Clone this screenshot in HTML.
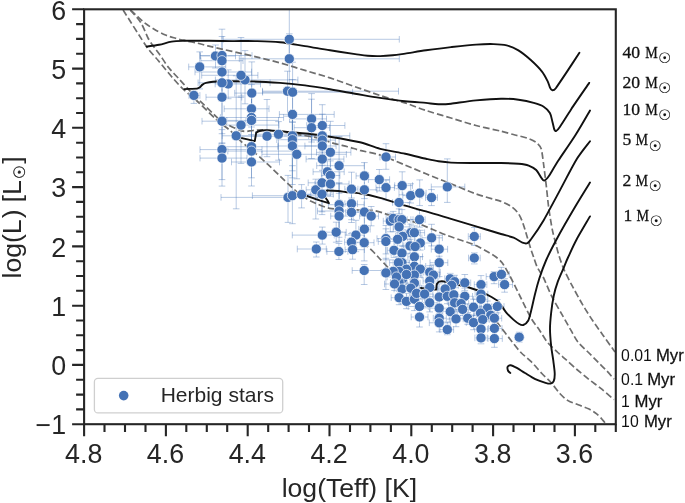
<!DOCTYPE html>
<html lang="en"><head><meta charset="utf-8"><title>Herbig stars HR diagram</title>
<style>html,body{margin:0;padding:0;background:#fff}svg{display:block}.s{font-family:"Liberation Sans",Arial,sans-serif;fill:#262626}.r{font-family:"Liberation Serif","Times New Roman",serif;fill:#111}.d{font-family:"DejaVu Sans","Liberation Sans",sans-serif}</style></head><body>
<svg width="685" height="503" viewBox="0 0 685 503">
<rect width="685" height="503" fill="#fff"/>
<defs><clipPath id="c"><rect x="84.1" y="9.3" width="531.7" height="414.9"/></clipPath></defs>
<g clip-path="url(#c)" stroke="#4a76b8" stroke-opacity="0.42" stroke-width="0.95" fill="none">
<path d="M188.7 66.9 H225.7M199.7 51.9 V88.9M188.7 63.6 v6.6M225.7 63.6 v6.6M196.4 51.9 h6.6M196.4 88.9 h6.6"/>
<path d="M200.5 56.0 H235.5M215.5 45.0 V68.0M200.5 52.7 v6.6M235.5 52.7 v6.6M212.2 45.0 h6.6M212.2 68.0 h6.6"/>
<path d="M200.0 55.5 H252.0M222.0 36.5 V85.5M200.0 52.2 v6.6M252.0 52.2 v6.6M218.7 36.5 h6.6M218.7 85.5 h6.6"/>
<path d="M200.9 60.7 H243.0M222.0 29.2 V74.9M200.9 57.4 v6.6M243.0 57.4 v6.6M218.7 29.2 h6.6M218.7 74.9 h6.6"/>
<path d="M195.0 72.0 H251.6M222.0 58.3 V99.2M195.0 68.7 v6.6M251.6 68.7 v6.6M218.7 58.3 h6.6M218.7 99.2 h6.6"/>
<path d="M215.2 84.0 H260.5M228.2 69.9 V98.7M215.2 80.7 v6.6M260.5 80.7 v6.6M224.9 69.9 h6.6M224.9 98.7 h6.6"/>
<path d="M198.1 82.8 H270.1M222.0 67.1 V101.5M198.1 79.5 v6.6M270.1 79.5 v6.6M218.7 67.1 h6.6M218.7 101.5 h6.6"/>
<path d="M215.4 79.9 H297.9M245.0 50.6 V103.8M215.4 76.6 v6.6M297.9 76.6 v6.6M241.7 50.6 h6.6M241.7 103.8 h6.6"/>
<path d="M201.7 75.3 H257.9M241.0 37.5 V96.0M201.7 72.0 v6.6M257.9 72.0 v6.6M237.7 37.5 h6.6M237.7 96.0 h6.6"/>
<path d="M188.9 95.4 H199.9M193.9 88.4 V103.4M188.9 92.1 v6.6M199.9 92.1 v6.6M190.6 88.4 h6.6M190.6 103.4 h6.6"/>
<path d="M206.0 97.2 H241.7M222.0 75.9 V133.7M206.0 93.9 v6.6M241.7 93.9 v6.6M218.7 75.9 h6.6M218.7 133.7 h6.6"/>
<path d="M234.7 93.1 H290.1M251.8 61.9 V116.3M234.7 89.8 v6.6M290.1 89.8 v6.6M248.5 61.9 h6.6M248.5 116.3 h6.6"/>
<path d="M202.0 121.2 H246.0M222.0 96.2 V143.2M202.0 117.9 v6.6M246.0 117.9 v6.6M218.7 96.2 h6.6M218.7 143.2 h6.6"/>
<path d="M224.2 108.8 H269.0M251.5 95.0 V127.0M224.2 105.5 v6.6M269.0 105.5 v6.6M248.2 95.0 h6.6M248.2 127.0 h6.6"/>
<path d="M220.4 117.5 H283.6M251.5 96.1 V147.1M220.4 114.2 v6.6M283.6 114.2 v6.6M248.2 96.1 h6.6M248.2 147.1 h6.6"/>
<path d="M226.8 120.4 H278.5M251.5 84.6 V153.4M226.8 117.1 v6.6M278.5 117.1 v6.6M248.2 84.6 h6.6M248.2 153.4 h6.6"/>
<path d="M222.2 125.1 H279.0M241.0 97.3 V163.4M222.2 121.8 v6.6M279.0 121.8 v6.6M237.7 97.3 h6.6M237.7 163.4 h6.6"/>
<path d="M222.2 135.8 H266.2M236.2 75.8 V208.8M222.2 132.5 v6.6M266.2 132.5 v6.6M232.9 75.8 h6.6M232.9 208.8 h6.6"/>
<path d="M200.0 149.6 H262.0M222.0 129.6 V179.6M200.0 146.3 v6.6M262.0 146.3 v6.6M218.7 129.6 h6.6M218.7 179.6 h6.6"/>
<path d="M200.0 158.1 H247.0M222.0 143.1 V186.1M200.0 154.8 v6.6M247.0 154.8 v6.6M218.7 143.1 h6.6M218.7 186.1 h6.6"/>
<path d="M219.1 146.7 H278.0M251.5 105.3 V162.2M219.1 143.4 v6.6M278.0 143.4 v6.6M248.2 105.3 h6.6M248.2 162.2 h6.6"/>
<path d="M227.8 151.1 H296.8M251.5 134.5 V177.8M227.8 147.8 v6.6M296.8 147.8 v6.6M248.2 134.5 h6.6M248.2 177.8 h6.6"/>
<path d="M231.5 162.0 H279.5M251.5 148.0 V186.0M231.5 158.7 v6.6M279.5 158.7 v6.6M248.2 148.0 h6.6M248.2 186.0 h6.6"/>
<path d="M223.3 39.3 H399.3M289.3 9.3 V59.3M223.3 36.0 v6.6M399.3 36.0 v6.6M286.0 9.3 h6.6M286.0 59.3 h6.6"/>
<path d="M239.3 58.8 H399.3M289.3 33.8 V83.8M239.3 55.5 v6.6M399.3 55.5 v6.6M286.0 33.8 h6.6M286.0 83.8 h6.6"/>
<path d="M262.5 91.2 H398.5M287.5 71.2 V116.2M262.5 87.9 v6.6M398.5 87.9 v6.6M284.2 71.2 h6.6M284.2 116.2 h6.6"/>
<path d="M262.6 92.2 H352.6M292.6 62.2 V122.2M262.6 88.9 v6.6M352.6 88.9 v6.6M289.3 62.2 h6.6M289.3 122.2 h6.6"/>
<path d="M279.4 114.4 H334.2M292.5 79.5 V143.6M279.4 111.1 v6.6M334.2 111.1 v6.6M289.2 79.5 h6.6M289.2 143.6 h6.6"/>
<path d="M289.6 118.9 H326.5M311.6 93.6 V142.0M289.6 115.6 v6.6M326.5 115.6 v6.6M308.3 93.6 h6.6M308.3 142.0 h6.6"/>
<path d="M294.2 127.7 H329.5M311.5 99.2 V158.5M294.2 124.4 v6.6M329.5 124.4 v6.6M308.2 99.2 h6.6M308.2 158.5 h6.6"/>
<path d="M306.7 125.5 H344.9M322.3 114.2 V150.9M306.7 122.2 v6.6M344.9 122.2 v6.6M319.0 114.2 h6.6M319.0 150.9 h6.6"/>
<path d="M236.9 136.2 H321.7M267.0 99.5 V156.7M236.9 132.9 v6.6M321.7 132.9 v6.6M263.7 99.5 h6.6M263.7 156.7 h6.6"/>
<path d="M255.7 134.3 H320.2M278.5 121.6 V160.2M255.7 131.0 v6.6M320.2 131.0 v6.6M275.2 121.6 h6.6M275.2 160.2 h6.6"/>
<path d="M275.7 135.8 H312.1M292.4 122.0 V170.8M275.7 132.5 v6.6M312.1 132.5 v6.6M289.1 122.0 h6.6M289.1 170.8 h6.6"/>
<path d="M276.8 139.7 H317.3M292.4 116.0 V177.8M276.8 136.4 v6.6M317.3 136.4 v6.6M289.1 116.0 h6.6M289.1 177.8 h6.6"/>
<path d="M278.1 146.0 H325.4M292.4 117.5 V184.5M278.1 142.7 v6.6M325.4 142.7 v6.6M289.1 117.5 h6.6M289.1 184.5 h6.6"/>
<path d="M261.9 154.3 H346.4M296.8 133.9 V178.8M261.9 151.0 v6.6M346.4 151.0 v6.6M293.5 133.9 h6.6M293.5 178.8 h6.6"/>
<path d="M308.6 135.8 H349.8M322.3 104.7 V149.1M308.6 132.5 v6.6M349.8 132.5 v6.6M319.0 104.7 h6.6M319.0 149.1 h6.6"/>
<path d="M311.5 140.1 H335.4M322.3 125.0 V160.8M311.5 136.8 v6.6M335.4 136.8 v6.6M319.0 125.0 h6.6M319.0 160.8 h6.6"/>
<path d="M304.9 146.0 H336.1M322.3 135.9 V165.2M304.9 142.7 v6.6M336.1 142.7 v6.6M319.0 135.9 h6.6M319.0 165.2 h6.6"/>
<path d="M316.5 152.3 H350.9M330.4 121.3 V177.5M316.5 149.0 v6.6M350.9 149.0 v6.6M327.1 121.3 h6.6M327.1 177.5 h6.6"/>
<path d="M306.1 159.1 H343.9M322.3 134.2 V170.3M306.1 155.8 v6.6M343.9 155.8 v6.6M319.0 134.2 h6.6M319.0 170.3 h6.6"/>
<path d="M316.7 165.7 H364.3M339.1 136.5 V193.3M316.7 162.4 v6.6M364.3 162.4 v6.6M335.8 136.5 h6.6M335.8 193.3 h6.6"/>
<path d="M313.1 171.8 H344.2M327.4 159.5 V195.8M313.1 168.5 v6.6M344.2 168.5 v6.6M324.1 159.5 h6.6M324.1 195.8 h6.6"/>
<path d="M321.4 175.5 H339.9M330.4 160.9 V189.1M321.4 172.2 v6.6M339.9 172.2 v6.6M327.1 160.9 h6.6M327.1 189.1 h6.6"/>
<path d="M221.0 197.4 H318.0M288.0 175.4 V222.4M221.0 194.1 v6.6M318.0 194.1 v6.6M284.7 175.4 h6.6M284.7 222.4 h6.6"/>
<path d="M252.4 195.7 H317.4M292.4 165.7 V223.7M252.4 192.4 v6.6M317.4 192.4 v6.6M289.1 165.7 h6.6M289.1 223.7 h6.6"/>
<path d="M288.2 194.6 H310.8M301.6 184.6 V207.9M288.2 191.3 v6.6M310.8 191.3 v6.6M298.3 184.6 h6.6M298.3 207.9 h6.6"/>
<path d="M306.2 189.8 H331.8M315.8 179.2 V219.0M306.2 186.5 v6.6M331.8 186.5 v6.6M312.5 179.2 h6.6M312.5 219.0 h6.6"/>
<path d="M304.2 194.2 H333.3M322.0 178.7 V211.8M304.2 190.9 v6.6M333.3 190.9 v6.6M318.7 178.7 h6.6M318.7 211.8 h6.6"/>
<path d="M308.2 182.8 H332.7M322.0 154.1 V214.6M308.2 179.5 v6.6M332.7 179.5 v6.6M318.7 154.1 h6.6M318.7 214.6 h6.6"/>
<path d="M314.9 184.0 H349.0M330.4 172.1 V196.2M314.9 180.7 v6.6M349.0 180.7 v6.6M327.1 172.1 h6.6M327.1 196.2 h6.6"/>
<path d="M344.8 189.1 H357.9M351.5 172.2 V198.0M344.8 185.8 v6.6M357.9 185.8 v6.6M348.2 172.2 h6.6M348.2 198.0 h6.6"/>
<path d="M360.2 189.8 H377.0M364.4 176.5 V198.6M360.2 186.5 v6.6M377.0 186.5 v6.6M361.1 176.5 h6.6M361.1 198.6 h6.6"/>
<path d="M356.1 175.9 H368.6M364.4 162.6 V194.6M356.1 172.6 v6.6M368.6 172.6 v6.6M361.1 162.6 h6.6M361.1 194.6 h6.6"/>
<path d="M368.4 179.6 H389.6M379.3 169.5 V191.0M368.4 176.3 v6.6M389.6 176.3 v6.6M376.0 169.5 h6.6M376.0 191.0 h6.6"/>
<path d="M328.4 204.7 H364.1M339.1 183.0 V231.8M328.4 201.4 v6.6M364.1 201.4 v6.6M335.8 183.0 h6.6M335.8 231.8 h6.6"/>
<path d="M344.9 203.7 H357.5M351.5 187.0 V222.5M344.9 200.4 v6.6M357.5 200.4 v6.6M348.2 187.0 h6.6M348.2 222.5 h6.6"/>
<path d="M317.5 211.0 H364.8M339.1 183.0 V237.3M317.5 207.7 v6.6M364.8 207.7 v6.6M335.8 183.0 h6.6M335.8 237.3 h6.6"/>
<path d="M345.7 212.4 H360.2M351.5 201.1 V219.7M345.7 209.1 v6.6M360.2 209.1 v6.6M348.2 201.1 h6.6M348.2 219.7 h6.6"/>
<path d="M330.7 216.1 H353.2M339.1 200.4 V241.3M330.7 212.8 v6.6M353.2 212.8 v6.6M335.8 200.4 h6.6M335.8 241.3 h6.6"/>
<path d="M352.7 212.0 H372.4M364.4 193.8 V230.9M352.7 208.7 v6.6M372.4 208.7 v6.6M361.1 193.8 h6.6M361.1 230.9 h6.6"/>
<path d="M359.6 216.1 H378.5M371.2 206.5 V225.8M359.6 212.8 v6.6M378.5 212.8 v6.6M367.9 206.5 h6.6M367.9 225.8 h6.6"/>
<path d="M358.8 229.2 H370.2M364.4 214.7 V247.0M358.8 225.9 v6.6M370.2 225.9 v6.6M361.1 214.7 h6.6M361.1 247.0 h6.6"/>
<path d="M322.2 232.2 H346.2M336.2 222.2 V242.2M322.2 228.9 v6.6M346.2 228.9 v6.6M332.9 222.2 h6.6M332.9 242.2 h6.6"/>
<path d="M292.3 235.1 H334.3M322.3 227.1 V244.1M292.3 231.8 v6.6M334.3 231.8 v6.6M319.0 227.1 h6.6M319.0 244.1 h6.6"/>
<path d="M345.2 235.1 H364.2M355.9 220.3 V251.7M345.2 231.8 v6.6M364.2 231.8 v6.6M352.6 220.3 h6.6M352.6 251.7 h6.6"/>
<path d="M380.0 157.0 H395.5M386.0 143.7 V169.3M380.0 153.7 v6.6M395.5 153.7 v6.6M382.7 143.7 h6.6M382.7 169.3 h6.6"/>
<path d="M376.0 187.6 H394.4M386.0 180.2 V199.9M376.0 184.3 v6.6M394.4 184.3 v6.6M382.7 180.2 h6.6M382.7 199.9 h6.6"/>
<path d="M394.7 185.6 H412.5M402.2 171.8 V194.8M394.7 182.3 v6.6M412.5 182.3 v6.6M398.9 171.8 h6.6M398.9 194.8 h6.6"/>
<path d="M402.8 195.6 H421.9M410.7 183.8 V203.0M402.8 192.3 v6.6M421.9 192.3 v6.6M407.4 183.8 h6.6M407.4 203.0 h6.6"/>
<path d="M413.4 193.1 H426.1M419.7 179.9 V205.6M413.4 189.8 v6.6M426.1 189.8 v6.6M416.4 179.9 h6.6M416.4 205.6 h6.6"/>
<path d="M392.6 202.5 H409.5M399.0 188.7 V213.8M392.6 199.2 v6.6M409.5 199.2 v6.6M395.7 188.7 h6.6M395.7 213.8 h6.6"/>
<path d="M344.6 242.2 H360.3M351.4 233.6 V249.4M344.6 238.9 v6.6M360.3 238.9 v6.6M348.1 233.6 h6.6M348.1 249.4 h6.6"/>
<path d="M352.4 242.7 H374.0M364.2 229.4 V260.9M352.4 239.4 v6.6M374.0 239.4 v6.6M360.9 229.4 h6.6M360.9 260.9 h6.6"/>
<path d="M297.3 249.0 H326.3M316.3 242.0 V257.0M297.3 245.7 v6.6M326.3 245.7 v6.6M313.0 242.0 h6.6M313.0 257.0 h6.6"/>
<path d="M326.9 251.5 H347.9M338.9 243.5 V259.5M326.9 248.2 v6.6M347.9 248.2 v6.6M335.6 243.5 h6.6M335.6 259.5 h6.6"/>
<path d="M345.1 249.7 H364.4M352.6 232.8 V259.2M345.1 246.4 v6.6M364.4 246.4 v6.6M349.3 232.8 h6.6M349.3 259.2 h6.6"/>
<path d="M383.3 221.1 H397.6M390.3 213.2 V231.8M383.3 217.8 v6.6M397.6 217.8 v6.6M387.0 213.2 h6.6M387.0 231.8 h6.6"/>
<path d="M386.1 218.4 H401.2M393.2 211.4 V231.7M386.1 215.1 v6.6M401.2 215.1 v6.6M389.9 211.4 h6.6M389.9 231.7 h6.6"/>
<path d="M391.5 219.6 H407.3M399.1 208.9 V232.8M391.5 216.3 v6.6M407.3 216.3 v6.6M395.8 208.9 h6.6M395.8 232.8 h6.6"/>
<path d="M394.0 219.6 H413.0M402.0 209.6 V229.9M394.0 216.3 v6.6M413.0 216.3 v6.6M398.7 209.6 h6.6M398.7 229.9 h6.6"/>
<path d="M410.9 219.6 H425.1M419.5 210.1 V227.1M410.9 216.3 v6.6M425.1 216.3 v6.6M416.2 210.1 h6.6M416.2 227.1 h6.6"/>
<path d="M393.6 226.9 H409.4M399.1 219.5 V236.7M393.6 223.6 v6.6M409.4 223.6 v6.6M395.8 219.5 h6.6M395.8 236.7 h6.6"/>
<path d="M400.9 232.7 H419.6M410.8 224.1 V242.8M400.9 229.4 v6.6M419.6 229.4 v6.6M407.5 224.1 h6.6M407.5 242.8 h6.6"/>
<path d="M405.6 232.7 H424.6M414.4 225.9 V243.2M405.6 229.4 v6.6M424.6 229.4 v6.6M411.1 225.9 h6.6M411.1 243.2 h6.6"/>
<path d="M395.7 236.4 H409.9M402.7 224.2 V246.5M395.7 233.1 v6.6M409.9 233.1 v6.6M399.4 224.2 h6.6M399.4 246.5 h6.6"/>
<path d="M388.7 239.3 H407.7M397.6 226.0 V248.8M388.7 236.0 v6.6M407.7 236.0 v6.6M394.3 226.0 h6.6M394.3 248.8 h6.6"/>
<path d="M377.0 238.6 H394.4M385.9 225.5 V253.9M377.0 235.3 v6.6M394.4 235.3 v6.6M382.6 225.5 h6.6M382.6 253.9 h6.6"/>
<path d="M378.3 241.5 H394.7M385.9 228.8 V259.8M378.3 238.2 v6.6M394.7 238.2 v6.6M382.6 228.8 h6.6M382.6 259.8 h6.6"/>
<path d="M421.9 237.8 H442.4M431.6 224.3 V245.9M421.9 234.5 v6.6M442.4 234.5 v6.6M428.3 224.3 h6.6M428.3 245.9 h6.6"/>
<path d="M411.4 243.0 H431.5M420.3 230.3 V250.1M411.4 239.7 v6.6M431.5 239.7 v6.6M417.0 230.3 h6.6M417.0 250.1 h6.6"/>
<path d="M403.8 245.9 H418.2M410.0 239.3 V253.8M403.8 242.6 v6.6M418.2 242.6 v6.6M406.7 239.3 h6.6M406.7 253.8 h6.6"/>
<path d="M409.2 246.6 H424.6M415.1 234.3 V259.8M409.2 243.3 v6.6M424.6 243.3 v6.6M411.8 234.3 h6.6M411.8 259.8 h6.6"/>
<path d="M387.6 250.3 H403.8M394.0 239.0 V257.4M387.6 247.0 v6.6M403.8 247.0 v6.6M390.7 239.0 h6.6M390.7 257.4 h6.6"/>
<path d="M391.2 253.2 H413.3M402.0 245.4 V266.8M391.2 249.9 v6.6M413.3 249.9 v6.6M398.7 245.4 h6.6M398.7 266.8 h6.6"/>
<path d="M431.3 249.2 H447.6M439.2 235.3 V261.9M431.3 245.9 v6.6M447.6 245.9 v6.6M435.9 235.3 h6.6M435.9 261.9 h6.6"/>
<path d="M407.9 256.8 H422.5M414.4 246.7 V265.5M407.9 253.5 v6.6M422.5 253.5 v6.6M411.1 246.7 h6.6M411.1 265.5 h6.6"/>
<path d="M395.3 262.7 H409.4M402.0 250.9 V268.9M395.3 259.4 v6.6M409.4 259.4 v6.6M398.7 250.9 h6.6M398.7 268.9 h6.6"/>
<path d="M389.6 262.7 H406.5M398.4 256.6 V271.4M389.6 259.4 v6.6M406.5 259.4 v6.6M395.1 256.6 h6.6M395.1 271.4 h6.6"/>
<path d="M430.0 262.7 H447.8M439.2 256.2 V276.6M430.0 259.4 v6.6M447.8 259.4 v6.6M435.9 256.2 h6.6M435.9 276.6 h6.6"/>
<path d="M404.2 266.3 H425.7M414.4 259.5 V274.4M404.2 263.0 v6.6M425.7 263.0 v6.6M411.1 259.5 h6.6M411.1 274.4 h6.6"/>
<path d="M400.7 269.2 H416.6M406.4 261.0 V276.2M400.7 265.9 v6.6M416.6 265.9 v6.6M403.1 261.0 h6.6M403.1 276.2 h6.6"/>
<path d="M412.3 269.2 H431.3M420.3 256.6 V277.3M412.3 265.9 v6.6M431.3 265.9 v6.6M417.0 256.6 h6.6M417.0 277.3 h6.6"/>
<path d="M392.7 271.4 H410.1M399.1 260.8 V283.0M392.7 268.1 v6.6M410.1 268.1 v6.6M395.8 260.8 h6.6M395.8 283.0 h6.6"/>
<path d="M387.2 271.4 H399.0M393.2 259.9 V280.8M387.2 268.1 v6.6M399.0 268.1 v6.6M389.9 259.9 h6.6M389.9 280.8 h6.6"/>
<path d="M381.3 272.9 H398.3M385.9 258.3 V289.5M381.3 269.6 v6.6M398.3 269.6 v6.6M382.6 258.3 h6.6M382.6 289.5 h6.6"/>
<path d="M423.7 272.2 H440.3M429.7 265.7 V285.1M423.7 268.9 v6.6M440.3 268.9 v6.6M426.4 265.7 h6.6M426.4 285.1 h6.6"/>
<path d="M406.2 275.1 H421.9M414.4 264.7 V288.5M406.2 271.8 v6.6M421.9 271.8 v6.6M411.1 264.7 h6.6M411.1 288.5 h6.6"/>
<path d="M426.3 275.1 H439.7M433.4 264.9 V283.0M426.3 271.8 v6.6M439.7 271.8 v6.6M430.1 264.9 h6.6M430.1 283.0 h6.6"/>
<path d="M468.3 236.5 H480.3M474.3 227.5 V245.5M468.3 233.2 v6.6M480.3 233.2 v6.6M471.0 227.5 h6.6M471.0 245.5 h6.6"/>
<path d="M468.5 258.0 H480.2M474.3 252.8 V263.9M468.5 254.7 v6.6M480.2 254.7 v6.6M471.0 252.8 h6.6M471.0 263.9 h6.6"/>
<path d="M425.5 197.6 H437.5M431.5 189.6 V205.6M425.5 194.3 v6.6M437.5 194.3 v6.6M428.2 189.6 h6.6M428.2 205.6 h6.6"/>
<path d="M431.3 186.9 H464.8M447.3 158.9 V202.4M431.3 183.6 v6.6M464.8 183.6 v6.6M444.0 158.9 h6.6M444.0 202.4 h6.6"/>
<path d="M395.3 278.8 H410.0M402.7 266.7 V287.1M395.3 275.5 v6.6M410.0 275.5 v6.6M399.4 266.7 h6.6M399.4 287.1 h6.6"/>
<path d="M390.6 282.4 H405.7M399.1 273.6 V288.5M390.6 279.1 v6.6M405.7 279.1 v6.6M395.8 273.6 h6.6M395.8 288.5 h6.6"/>
<path d="M407.4 283.1 H420.0M414.4 271.2 V293.5M407.4 279.8 v6.6M420.0 279.8 v6.6M411.1 271.2 h6.6M411.1 293.5 h6.6"/>
<path d="M423.1 281.0 H438.0M429.7 267.5 V287.9M423.1 277.7 v6.6M438.0 277.7 v6.6M426.4 267.5 h6.6M426.4 287.9 h6.6"/>
<path d="M419.3 287.5 H437.8M429.7 277.5 V300.2M419.3 284.2 v6.6M437.8 284.2 v6.6M426.4 277.5 h6.6M426.4 300.2 h6.6"/>
<path d="M394.1 289.0 H410.5M402.0 277.5 V302.9M394.1 285.7 v6.6M410.5 285.7 v6.6M398.7 277.5 h6.6M398.7 302.9 h6.6"/>
<path d="M403.2 288.2 H421.3M410.8 276.5 V299.3M403.2 284.9 v6.6M421.3 284.9 v6.6M407.5 276.5 h6.6M407.5 299.3 h6.6"/>
<path d="M391.2 297.7 H406.7M399.1 291.3 V304.7M391.2 294.4 v6.6M406.7 294.4 v6.6M395.8 291.3 h6.6M395.8 304.7 h6.6"/>
<path d="M400.5 301.4 H416.3M406.4 293.4 V308.7M400.5 298.1 v6.6M416.3 298.1 v6.6M403.1 293.4 h6.6M403.1 308.7 h6.6"/>
<path d="M408.4 299.2 H424.9M414.4 286.2 V310.6M408.4 295.9 v6.6M424.9 295.9 v6.6M411.1 286.2 h6.6M411.1 310.6 h6.6"/>
<path d="M409.4 293.4 H423.6M416.6 285.1 V303.1M409.4 290.1 v6.6M423.6 290.1 v6.6M413.3 285.1 h6.6M413.3 303.1 h6.6"/>
<path d="M418.2 294.1 H432.8M424.6 286.0 V307.8M418.2 290.8 v6.6M432.8 290.8 v6.6M421.3 286.0 h6.6M421.3 307.8 h6.6"/>
<path d="M408.2 306.5 H428.3M419.5 298.5 V320.2M408.2 303.2 v6.6M428.3 303.2 v6.6M416.2 298.5 h6.6M416.2 320.2 h6.6"/>
<path d="M422.3 302.8 H437.3M429.7 296.8 V311.9M422.3 299.5 v6.6M437.3 299.5 v6.6M426.4 296.8 h6.6M426.4 311.9 h6.6"/>
<path d="M411.2 317.0 H428.0M419.5 309.4 V327.0M411.2 313.7 v6.6M428.0 313.7 v6.6M416.2 309.4 h6.6M416.2 327.0 h6.6"/>
<path d="M444.7 278.8 H456.4M450.2 273.4 V285.6M444.7 275.5 v6.6M456.4 275.5 v6.6M446.9 273.4 h6.6M446.9 285.6 h6.6"/>
<path d="M449.0 281.7 H460.2M454.6 275.3 V287.7M449.0 278.4 v6.6M460.2 278.4 v6.6M451.3 275.3 h6.6M451.3 287.7 h6.6"/>
<path d="M444.6 285.3 H458.4M451.6 276.9 V293.3M444.6 282.0 v6.6M458.4 282.0 v6.6M448.3 276.9 h6.6M448.3 293.3 h6.6"/>
<path d="M437.8 289.0 H452.8M445.1 282.2 V295.5M437.8 285.7 v6.6M452.8 285.7 v6.6M441.8 282.2 h6.6M441.8 295.5 h6.6"/>
<path d="M456.8 282.8 H470.7M464.8 274.5 V290.7M456.8 279.5 v6.6M470.7 279.5 v6.6M461.5 274.5 h6.6M461.5 290.7 h6.6"/>
<path d="M433.4 297.0 H449.7M439.2 283.9 V308.0M433.4 293.7 v6.6M449.7 293.7 v6.6M435.9 283.9 h6.6M435.9 308.0 h6.6"/>
<path d="M440.0 296.3 H454.8M447.3 290.7 V303.7M440.0 293.0 v6.6M454.8 293.0 v6.6M444.0 290.7 h6.6M444.0 303.7 h6.6"/>
<path d="M447.0 294.8 H461.4M453.8 286.2 V303.5M447.0 291.5 v6.6M461.4 291.5 v6.6M450.5 286.2 h6.6M450.5 303.5 h6.6"/>
<path d="M457.8 296.3 H472.5M464.8 288.2 V304.4M457.8 293.0 v6.6M472.5 293.0 v6.6M461.5 288.2 h6.6M461.5 304.4 h6.6"/>
<path d="M448.5 302.8 H460.2M454.6 297.2 V309.4M448.5 299.5 v6.6M460.2 299.5 v6.6M451.3 297.2 h6.6M451.3 309.4 h6.6"/>
<path d="M455.3 303.6 H468.7M461.1 296.1 V311.4M455.3 300.3 v6.6M468.7 300.3 v6.6M457.8 296.1 h6.6M457.8 311.4 h6.6"/>
<path d="M429.9 308.2 H448.8M439.2 298.3 V314.2M429.9 304.9 v6.6M448.8 304.9 v6.6M435.9 298.3 h6.6M435.9 314.2 h6.6"/>
<path d="M442.7 311.6 H457.6M450.2 304.3 V319.0M442.7 308.3 v6.6M457.6 308.3 v6.6M446.9 304.3 h6.6M446.9 319.0 h6.6"/>
<path d="M455.5 309.4 H468.3M462.6 301.1 V315.5M455.5 306.1 v6.6M468.3 306.1 v6.6M459.3 301.1 h6.6M459.3 315.5 h6.6"/>
<path d="M433.3 318.2 H446.3M439.2 306.4 V325.8M433.3 314.9 v6.6M446.3 314.9 v6.6M435.9 306.4 h6.6M435.9 325.8 h6.6"/>
<path d="M429.3 322.8 H450.6M439.2 312.8 V331.9M429.3 319.5 v6.6M450.6 319.5 v6.6M435.9 312.8 h6.6M435.9 331.9 h6.6"/>
<path d="M449.3 318.9 H463.2M456.0 310.4 V326.7M449.3 315.6 v6.6M463.2 315.6 v6.6M452.7 310.4 h6.6M452.7 326.7 h6.6"/>
<path d="M460.6 318.2 H473.4M467.7 312.5 V324.3M460.6 314.9 v6.6M473.4 314.9 v6.6M464.4 312.5 h6.6M464.4 324.3 h6.6"/>
<path d="M439.9 329.6 H453.6M447.3 322.0 V334.7M439.9 326.3 v6.6M453.6 326.3 v6.6M444.0 322.0 h6.6M444.0 334.7 h6.6"/>
<path d="M467.8 307.2 H479.7M473.5 299.2 V315.3M467.8 303.9 v6.6M479.7 303.9 v6.6M470.2 299.2 h6.6M470.2 315.3 h6.6"/>
<path d="M466.3 322.6 H479.7M473.5 315.3 V329.7M466.3 319.3 v6.6M479.7 319.3 v6.6M470.2 315.3 h6.6M470.2 329.7 h6.6"/>
<path d="M474.3 284.6 H486.8M481.0 275.6 V290.5M474.3 281.3 v6.6M486.8 281.3 v6.6M477.7 275.6 h6.6M477.7 290.5 h6.6"/>
<path d="M486.2 276.6 H501.9M494.1 271.5 V283.7M486.2 273.3 v6.6M501.9 273.3 v6.6M490.8 271.5 h6.6M490.8 283.7 h6.6"/>
<path d="M493.9 274.4 H509.3M501.4 267.4 V280.6M493.9 271.1 v6.6M509.3 271.1 v6.6M498.1 267.4 h6.6M498.1 280.6 h6.6"/>
<path d="M498.6 284.6 H512.5M504.6 278.7 V292.2M498.6 281.3 v6.6M512.5 281.3 v6.6M501.3 278.7 h6.6M501.3 292.2 h6.6"/>
<path d="M475.1 294.1 H487.8M481.0 284.8 V299.7M475.1 290.8 v6.6M487.8 290.8 v6.6M477.7 284.8 h6.6M477.7 299.7 h6.6"/>
<path d="M473.4 299.2 H487.8M481.0 290.2 V307.4M473.4 295.9 v6.6M487.8 295.9 v6.6M477.7 290.2 h6.6M477.7 307.4 h6.6"/>
<path d="M481.3 308.2 H495.1M487.4 301.0 V313.3M481.3 304.9 v6.6M495.1 304.9 v6.6M484.1 301.0 h6.6M484.1 313.3 h6.6"/>
<path d="M491.8 306.5 H504.0M497.3 299.5 V312.9M491.8 303.2 v6.6M504.0 303.2 v6.6M494.0 299.5 h6.6M494.0 312.9 h6.6"/>
<path d="M474.6 313.1 H486.9M480.5 306.7 V321.9M474.6 309.8 v6.6M486.9 309.8 v6.6M477.2 306.7 h6.6M477.2 321.9 h6.6"/>
<path d="M485.3 315.3 H498.2M490.8 306.5 V320.8M485.3 312.0 v6.6M498.2 312.0 v6.6M487.5 306.5 h6.6M487.5 320.8 h6.6"/>
<path d="M486.6 318.2 H501.7M494.4 309.1 V324.5M486.6 314.9 v6.6M501.7 314.9 v6.6M491.1 309.1 h6.6M491.1 324.5 h6.6"/>
<path d="M476.3 319.6 H489.2M482.7 310.1 V327.3M476.3 316.3 v6.6M489.2 316.3 v6.6M479.4 310.1 h6.6M479.4 327.3 h6.6"/>
<path d="M474.6 329.1 H487.6M481.0 322.9 V334.3M474.6 325.8 v6.6M487.6 325.8 v6.6M477.7 322.9 h6.6M477.7 334.3 h6.6"/>
<path d="M488.6 328.4 H502.0M494.4 322.1 V337.6M488.6 325.1 v6.6M502.0 325.1 v6.6M491.1 322.1 h6.6M491.1 337.6 h6.6"/>
<path d="M474.9 337.9 H487.2M481.0 330.6 V343.8M474.9 334.6 v6.6M487.2 334.6 v6.6M477.7 330.6 h6.6M477.7 343.8 h6.6"/>
<path d="M488.0 338.6 H502.3M494.4 329.6 V347.3M488.0 335.3 v6.6M502.3 335.3 v6.6M491.1 329.6 h6.6M491.1 347.3 h6.6"/>
<path d="M517.2 337.2 H521.2M519.2 332.2 V342.2M517.2 333.9 v6.6M521.2 333.9 v6.6M515.9 332.2 h6.6M515.9 342.2 h6.6"/>
<path d="M352.2 270.5 H385.2M364.2 264.5 V284.5M352.2 267.2 v6.6M385.2 267.2 v6.6M360.9 264.5 h6.6M360.9 284.5 h6.6"/>
<path d="M387.2 277.0 H407.5M396.5 263.5 V287.4M387.2 273.7 v6.6M407.5 273.7 v6.6M393.2 263.5 h6.6M393.2 287.4 h6.6"/>
<path d="M396.7 274.5 H412.3M406.5 262.6 V284.1M396.7 271.2 v6.6M412.3 271.2 v6.6M403.2 262.6 h6.6M403.2 284.1 h6.6"/>
<path d="M384.5 284.0 H403.9M394.5 275.7 V290.4M384.5 280.7 v6.6M403.9 280.7 v6.6M391.2 275.7 h6.6M391.2 290.4 h6.6"/>
</g>
<g clip-path="url(#c)" stroke="#6e6e6e" stroke-width="1.7" fill="none" stroke-dasharray="6.6 3" stroke-linejoin="round">
<path d="M130.4 10.0 C131.6 11.1 135.3 14.5 137.7 16.7 C140.1 18.9 142.4 21.2 145.0 23.2 C147.6 25.2 150.8 27.2 153.8 29.0 C156.8 30.8 162.2 33.6 165.5 35.0 C168.8 36.4 172.3 37.3 175.7 38.3 C179.1 39.3 182.6 40.0 186.0 40.8 C189.4 41.6 194.2 42.4 197.6 43.2 C201.0 44.0 204.4 45.1 207.8 45.9 C211.2 46.7 246.6 54.6 255.0 56.6 C263.4 58.6 271.7 60.6 280.0 62.9 C288.3 65.2 296.7 67.9 305.0 70.4 C313.3 72.9 321.7 75.2 330.0 77.9 C338.3 80.6 346.7 83.8 355.0 86.7 C363.3 89.6 371.7 92.7 380.0 95.4 C388.3 98.1 397.9 100.6 405.0 102.9 C412.1 105.2 418.9 108.2 426.0 110.5 C433.1 112.8 442.7 115.5 451.0 118.0 C459.3 120.5 467.7 123.3 476.0 125.5 C484.3 127.7 496.3 130.1 501.0 131.2 C505.7 132.3 511.0 134.0 515.0 135.0 C519.0 136.0 523.8 136.9 527.0 138.0 C530.2 139.1 534.1 140.9 536.2 142.5 C538.3 144.1 540.4 146.3 541.2 148.8 C542.0 151.3 543.0 159.6 543.7 165.0 C544.4 170.4 545.4 178.4 546.2 185.1 C547.0 191.8 547.7 200.1 548.7 207.6 C549.7 215.1 551.4 225.1 552.4 230.2 C553.4 235.3 555.4 241.9 556.2 245.2 C557.0 248.5 557.8 251.8 558.8 255.0 C559.8 258.2 561.9 264.7 563.9 269.3 C565.9 273.9 569.2 280.3 572.1 285.7 C575.0 291.1 579.0 298.5 582.3 304.1 C585.6 309.7 589.3 315.6 592.6 320.5 C595.9 325.4 599.4 330.1 602.8 334.9 C606.2 339.7 612.3 348.3 613.0 349.2 C613.7 350.1 614.7 351.5 615.0 352.0"/>
<path d="M130.4 10.0 C132.2 12.2 138.1 18.3 141.0 23.0 C143.9 27.7 146.3 34.8 148.0 38.0 C149.7 41.2 152.1 44.3 154.0 47.0 C155.9 49.7 158.1 52.3 160.0 55.0 C161.9 57.7 165.7 63.9 169.0 68.0 C172.3 72.1 176.7 76.3 180.0 80.0 C183.3 83.7 187.4 88.3 190.0 91.0 C192.6 93.7 195.3 96.4 198.0 99.0 C200.7 101.6 215.6 116.2 218.5 118.7 C221.4 121.2 225.7 123.4 228.2 124.8 C230.7 126.2 233.3 127.4 236.0 128.5 C238.7 129.6 241.4 131.1 244.2 131.4 C247.0 131.7 250.1 130.7 253.0 130.5 C255.9 130.3 259.0 129.8 262.0 129.9 C265.0 130.0 274.5 130.8 280.0 131.5 C285.5 132.2 291.0 133.4 296.5 134.3 C302.0 135.2 313.4 136.8 318.4 138.0 C323.4 139.2 328.2 141.7 333.0 143.1 C337.8 144.5 343.4 145.6 347.6 146.7 C351.8 147.8 355.8 149.3 360.0 150.4 C364.2 151.5 373.5 152.9 380.0 155.0 C386.5 157.1 398.0 162.1 405.0 165.0 C412.0 167.9 419.0 170.9 426.0 173.8 C433.0 176.7 442.7 180.5 451.0 183.8 C459.3 187.1 467.8 191.0 476.0 193.9 C484.2 196.8 497.5 200.1 501.0 201.4 C504.5 202.7 508.2 204.4 511.1 206.4 C514.0 208.4 516.6 211.0 518.6 213.9 C520.6 216.8 522.2 221.3 523.6 225.2 C525.0 229.1 526.1 233.5 527.4 237.7 C528.7 241.9 530.5 247.9 531.2 250.2 C531.9 252.5 532.8 254.7 533.6 257.0 C534.4 259.3 535.7 264.0 537.3 267.3 C538.9 270.6 541.6 274.0 543.4 277.5 C545.2 281.0 548.6 290.0 551.6 296.0 C554.6 302.0 558.9 309.1 561.9 314.4 C564.9 319.7 568.7 326.4 571.0 330.4 C573.3 334.4 575.3 338.7 578.2 342.3 C581.1 345.9 585.1 349.1 588.5 352.5 C591.9 355.9 596.0 360.1 598.7 362.8 C601.4 365.5 604.4 368.4 606.9 371.0 C609.4 373.6 612.8 377.8 614.0 379.1"/>
<path d="M123.1 10.0 C127.0 16.1 143.0 41.6 146.5 46.6 C150.0 51.6 154.3 55.9 158.2 60.5 C162.1 65.1 169.2 73.9 172.8 78.0 C176.4 82.1 180.2 86.4 184.0 90.0 C187.8 93.6 192.2 96.5 196.0 100.0 C199.8 103.5 211.9 115.5 216.5 119.7 C221.1 123.9 227.5 128.2 231.1 131.4 C234.7 134.6 237.7 138.4 241.3 141.6 C244.9 144.8 249.2 147.8 253.0 151.1 C256.8 154.4 263.4 160.3 267.6 164.2 C271.8 168.1 275.9 172.1 280.0 176.0 C284.1 179.9 290.9 186.6 294.6 189.8 C298.3 193.0 303.1 196.6 306.3 198.6 C309.5 200.6 313.0 202.2 316.5 203.7 C320.0 205.2 325.1 207.4 329.6 208.3 C334.1 209.2 339.3 209.2 344.2 209.5 C349.1 209.8 353.9 209.8 358.8 210.0 C363.7 210.2 370.0 210.0 375.0 210.8 C380.0 211.6 384.7 213.8 389.6 215.2 C394.5 216.6 404.3 218.6 411.5 221.0 C418.7 223.4 428.5 227.8 433.4 229.8 C438.3 231.8 443.2 233.9 448.0 235.7 C452.8 237.5 458.5 239.4 462.6 240.8 C466.7 242.2 471.0 243.3 475.0 245.1 C479.0 246.9 485.3 250.4 488.0 252.0 C490.7 253.6 493.6 255.2 496.0 257.0 C498.4 258.8 500.8 260.8 502.5 263.2 C504.2 265.6 508.1 272.6 510.7 277.5 C513.3 282.4 517.5 291.2 520.9 298.0 C524.3 304.8 528.8 314.4 531.2 318.5 C533.6 322.6 536.7 326.1 539.4 330.0 C542.1 333.9 544.4 338.6 547.5 342.3 C550.6 346.0 555.2 350.0 557.8 352.5 C560.4 355.0 563.3 357.3 566.0 359.7 C568.7 362.1 572.7 365.9 576.2 368.9 C579.7 371.9 584.5 375.9 588.5 379.1 C592.5 382.3 596.8 385.2 600.8 388.4 C604.8 391.6 611.8 397.7 614.0 399.6"/>
<path d="M363.5 242.2 C364.2 242.9 366.3 245.1 367.7 246.5 C369.1 247.9 372.0 250.4 374.0 252.5 C376.0 254.6 378.0 256.8 380.0 259.0 C382.0 261.2 386.7 266.1 388.0 267.5"/>
<path d="M496.5 321.5 C496.8 321.9 497.8 323.2 498.4 324.0 C499.0 324.8 507.4 335.8 510.7 340.0 C514.0 344.2 517.7 349.2 520.9 352.5 C524.1 355.8 527.9 358.4 531.2 361.7 C534.5 365.0 538.1 369.5 541.4 373.0 C544.7 376.5 548.7 379.9 551.6 383.2 C554.5 386.5 557.3 390.9 559.8 393.5 C562.3 396.1 564.9 398.7 568.0 400.6 C571.1 402.5 574.8 403.3 578.2 404.7 C581.6 406.1 585.6 407.4 588.5 408.8 C591.4 410.2 594.4 412.1 596.7 413.9 C599.0 415.7 601.8 419.0 602.8 420.1 C603.8 421.2 605.0 422.9 605.5 423.5"/>
</g>
<g clip-path="url(#c)" stroke="#111" stroke-width="1.9" fill="none" stroke-linejoin="round" stroke-linecap="round">
<path d="M146.6 46.6 C148.7 46.3 155.0 45.6 159.1 44.8 C163.2 44.0 167.4 42.3 171.6 41.6 C175.8 40.9 180.0 40.9 184.2 40.8 C188.4 40.7 200.9 40.8 209.2 40.8 C217.5 40.8 227.3 41.1 234.2 41.1 C241.1 41.1 248.1 40.9 255.0 41.1 C261.9 41.3 271.7 41.5 280.0 42.3 C288.3 43.1 296.7 44.8 305.0 46.1 C313.3 47.4 321.7 49.0 330.1 50.3 C338.5 51.6 351.0 53.5 355.2 54.1 C359.4 54.7 363.5 55.5 367.7 55.8 C371.9 56.1 376.0 56.2 380.2 56.1 C384.4 56.0 388.5 55.7 392.7 55.3 C396.9 54.9 401.0 54.2 405.2 53.6 C409.4 53.0 419.0 51.3 426.0 50.3 C433.0 49.3 442.7 48.0 451.0 47.1 C459.3 46.2 470.3 45.0 476.1 44.6 C481.9 44.2 489.2 44.0 493.6 44.1 C498.0 44.2 502.6 44.4 506.7 45.4 C510.8 46.4 514.8 48.2 518.4 50.4 C522.0 52.6 526.7 56.4 530.5 59.8 C534.3 63.2 539.7 68.7 542.0 71.6 C544.3 74.5 546.6 79.2 547.6 81.2 C548.6 83.2 549.5 86.5 550.0 87.6 C550.5 88.7 551.3 90.2 552.3 90.3 C553.3 90.4 555.0 89.3 555.8 88.2 C556.6 87.1 562.8 78.0 566.2 72.9 C569.6 67.8 577.2 56.1 579.4 52.8"/>
<path d="M184.4 89.1 C186.5 89.0 195.9 88.7 197.0 88.6 C198.1 88.5 199.1 87.8 200.0 87.2 C200.9 86.6 201.5 85.3 202.5 84.6 C203.5 83.9 204.7 83.2 206.0 82.9 C207.3 82.6 210.6 82.0 213.0 81.7 C215.4 81.4 219.0 81.2 222.0 81.2 C225.0 81.2 244.0 81.1 253.0 81.4 C262.0 81.7 271.6 82.3 280.0 82.9 C288.4 83.5 296.7 84.4 305.0 85.4 C313.3 86.4 321.7 87.8 330.0 89.2 C338.3 90.6 346.7 92.3 355.0 93.7 C363.3 95.1 371.7 96.7 380.0 97.9 C388.3 99.1 398.0 100.4 405.0 101.2 C412.0 102.0 421.8 102.5 426.0 102.9 C430.2 103.3 434.3 104.1 438.5 104.2 C442.7 104.3 446.9 104.1 451.0 103.7 C455.1 103.3 467.7 101.2 476.0 100.4 C484.3 99.6 495.1 98.8 501.0 98.7 C506.9 98.6 513.5 99.0 518.6 99.7 C523.7 100.4 530.3 101.9 533.7 102.9 C537.1 103.9 541.2 105.1 543.7 106.7 C546.2 108.3 548.5 110.5 549.9 113.0 C551.3 115.5 551.7 119.2 552.4 121.7 C553.1 124.2 553.9 128.4 554.2 129.2 C554.5 130.0 555.4 131.4 556.2 131.0 C557.0 130.6 558.9 128.3 560.0 126.7 C561.1 125.1 567.4 115.0 571.2 109.2 C575.0 103.4 586.2 87.3 589.2 82.9"/>
<path d="M239.7 137.3 C241.0 137.7 245.1 138.8 247.5 139.4 C249.9 140.0 254.8 141.1 254.8 141.1 C254.8 141.1 256.2 132.6 256.2 132.6 C256.2 132.6 258.3 131.3 259.5 131.0 C260.7 130.7 263.5 130.2 265.5 130.2 C267.5 130.2 270.8 130.5 273.4 130.7 C276.0 130.9 283.9 131.6 289.2 132.1 C294.5 132.6 308.7 133.6 318.4 135.0 C328.1 136.4 353.1 140.8 360.0 142.3 C366.9 143.8 373.3 147.1 380.2 148.8 C387.1 150.5 398.2 152.3 405.2 153.8 C412.2 155.3 421.9 157.9 426.0 158.8 C430.1 159.7 434.4 160.7 438.5 161.3 C442.6 161.9 446.8 162.4 451.0 162.6 C455.2 162.8 467.7 162.9 476.0 163.0 C484.3 163.1 495.1 162.9 501.0 163.0 C506.9 163.1 515.2 163.5 518.6 163.8 C522.0 164.1 526.0 164.6 528.7 165.6 C531.4 166.6 534.1 168.0 536.2 170.0 C538.3 172.0 540.3 176.5 541.2 177.6 C542.1 178.7 543.0 180.8 544.2 180.6 C545.5 180.4 547.5 178.0 548.7 176.3 C549.9 174.6 555.2 165.3 558.7 160.0 C562.2 154.7 570.4 143.0 575.5 135.0 C580.6 127.0 587.6 114.6 590.0 110.5"/>
<path d="M306.3 195.7 C308.0 196.3 313.1 198.2 316.5 199.3 C319.9 200.4 328.9 203.2 328.9 203.2 C328.9 203.2 328.0 201.4 327.5 200.5 C327.0 199.6 324.8 197.5 324.5 196.0 C324.2 194.5 325.6 192.2 326.0 191.5 C326.4 190.8 327.4 190.5 328.2 190.5 C329.0 190.5 336.0 190.8 338.4 191.0 C340.8 191.2 343.3 191.7 345.7 192.0 C348.1 192.3 355.5 192.7 360.3 193.5 C365.1 194.3 373.6 196.1 380.0 197.8 C386.4 199.5 392.6 202.0 399.0 203.9 C405.4 205.8 417.6 209.0 426.0 211.4 C434.4 213.8 442.7 216.4 451.0 218.9 C459.3 221.4 467.7 223.9 476.0 226.4 C484.3 228.9 496.8 232.7 501.0 234.0 C505.2 235.3 510.5 236.4 513.6 237.7 C516.7 239.0 520.8 242.1 522.4 242.7 C524.0 243.3 525.9 243.8 527.4 243.2 C528.9 242.6 530.1 240.5 531.2 239.0 C532.3 237.5 539.9 226.7 543.7 220.2 C547.5 213.7 553.7 201.8 558.7 192.6 C563.7 183.4 572.2 166.6 576.2 160.0 C580.2 153.4 587.7 144.4 590.0 141.3"/>
<path d="M421.0 288.0 C422.5 288.2 427.9 289.3 430.0 289.5 C432.1 289.7 436.3 289.5 436.3 289.5 C436.3 289.5 436.4 286.7 436.5 286.0 C436.6 285.3 436.6 284.5 437.0 283.9 C437.4 283.3 438.2 282.1 439.2 281.7 C440.2 281.3 442.1 281.2 443.6 281.4 C445.1 281.6 451.2 283.1 455.0 284.0 C458.8 284.9 464.7 286.2 468.9 287.5 C473.1 288.8 477.8 290.4 481.3 291.9 C484.8 293.4 488.9 295.5 491.5 297.0 C494.1 298.5 496.8 300.0 498.8 302.1 C500.8 304.2 503.9 309.7 506.1 312.3 C508.3 314.9 511.6 318.0 513.4 319.6 C515.2 321.2 518.0 323.3 519.2 324.0 C520.4 324.7 522.0 325.5 523.3 325.0 C524.6 324.5 527.2 322.5 528.3 320.5 C529.4 318.5 530.3 313.9 531.2 310.5 C532.1 307.1 533.6 299.8 534.9 294.5 C536.2 289.2 537.6 283.8 539.3 278.5 C541.0 273.2 543.4 266.4 546.0 260.5 C548.6 254.6 552.8 246.4 556.5 239.5 C560.2 232.6 571.7 212.7 576.2 205.1 C580.7 197.5 587.7 186.3 590.0 182.6"/>
<path d="M510.3 373.0 C509.9 372.7 508.6 371.9 508.2 371.0 C507.8 370.1 507.2 367.9 507.6 366.9 C508.0 365.9 509.5 365.1 510.7 365.2 C511.9 365.3 514.8 366.8 516.8 367.9 C518.8 369.0 522.2 371.3 525.0 373.0 C527.8 374.7 532.0 377.5 535.3 379.1 C538.6 380.7 543.8 382.3 545.5 382.8 C547.2 383.3 549.3 383.9 550.6 383.6 C551.9 383.3 553.2 382.4 553.7 381.2 C554.2 380.0 554.8 375.8 554.7 373.0 C554.6 370.2 553.8 364.8 553.3 360.7 C552.8 356.6 551.7 351.2 551.2 346.4 C550.7 341.6 550.0 334.2 550.0 328.7 C550.0 323.2 550.6 317.7 551.2 312.3 C551.8 306.9 552.7 300.9 553.7 296.0 C554.7 291.1 556.1 286.3 557.8 281.6 C559.5 276.9 562.5 270.6 563.9 267.3 C565.3 264.0 566.5 260.7 568.0 257.5 C569.5 254.3 573.2 245.8 576.2 240.2 C579.2 234.6 587.7 220.4 590.0 216.4"/>
</g>
<g fill="#4472b5" stroke="#fff" stroke-width="0.7">
<circle cx="199.7" cy="66.9" r="5.1"/>
<circle cx="215.5" cy="56.0" r="5.1"/>
<circle cx="222.0" cy="55.5" r="5.1"/>
<circle cx="222.0" cy="60.7" r="5.1"/>
<circle cx="222.0" cy="72.0" r="5.1"/>
<circle cx="228.2" cy="84.0" r="5.1"/>
<circle cx="222.0" cy="82.8" r="5.1"/>
<circle cx="245.0" cy="79.9" r="5.1"/>
<circle cx="241.0" cy="75.3" r="5.1"/>
<circle cx="193.9" cy="95.4" r="5.1"/>
<circle cx="222.0" cy="97.2" r="5.1"/>
<circle cx="251.8" cy="93.1" r="5.1"/>
<circle cx="222.0" cy="121.2" r="5.1"/>
<circle cx="251.5" cy="108.8" r="5.1"/>
<circle cx="251.5" cy="117.5" r="5.1"/>
<circle cx="251.5" cy="120.4" r="5.1"/>
<circle cx="241.0" cy="125.1" r="5.1"/>
<circle cx="236.2" cy="135.8" r="5.1"/>
<circle cx="222.0" cy="149.6" r="5.1"/>
<circle cx="222.0" cy="158.1" r="5.1"/>
<circle cx="251.5" cy="146.7" r="5.1"/>
<circle cx="251.5" cy="151.1" r="5.1"/>
<circle cx="251.5" cy="162.0" r="5.1"/>
<circle cx="289.3" cy="39.3" r="5.1"/>
<circle cx="289.3" cy="58.8" r="5.1"/>
<circle cx="287.5" cy="91.2" r="5.1"/>
<circle cx="292.6" cy="92.2" r="5.1"/>
<circle cx="292.5" cy="114.4" r="5.1"/>
<circle cx="311.6" cy="118.9" r="5.1"/>
<circle cx="311.5" cy="127.7" r="5.1"/>
<circle cx="322.3" cy="125.5" r="5.1"/>
<circle cx="267.0" cy="136.2" r="5.1"/>
<circle cx="278.5" cy="134.3" r="5.1"/>
<circle cx="292.4" cy="135.8" r="5.1"/>
<circle cx="292.4" cy="139.7" r="5.1"/>
<circle cx="292.4" cy="146.0" r="5.1"/>
<circle cx="296.8" cy="154.3" r="5.1"/>
<circle cx="322.3" cy="135.8" r="5.1"/>
<circle cx="322.3" cy="140.1" r="5.1"/>
<circle cx="322.3" cy="146.0" r="5.1"/>
<circle cx="330.4" cy="152.3" r="5.1"/>
<circle cx="322.3" cy="159.1" r="5.1"/>
<circle cx="339.1" cy="165.7" r="5.1"/>
<circle cx="327.4" cy="171.8" r="5.1"/>
<circle cx="330.4" cy="175.5" r="5.1"/>
<circle cx="288.0" cy="197.4" r="5.1"/>
<circle cx="292.4" cy="195.7" r="5.1"/>
<circle cx="301.6" cy="194.6" r="5.1"/>
<circle cx="315.8" cy="189.8" r="5.1"/>
<circle cx="322.0" cy="194.2" r="5.1"/>
<circle cx="322.0" cy="182.8" r="5.1"/>
<circle cx="330.4" cy="184.0" r="5.1"/>
<circle cx="351.5" cy="189.1" r="5.1"/>
<circle cx="364.4" cy="189.8" r="5.1"/>
<circle cx="364.4" cy="175.9" r="5.1"/>
<circle cx="379.3" cy="179.6" r="5.1"/>
<circle cx="339.1" cy="204.7" r="5.1"/>
<circle cx="351.5" cy="203.7" r="5.1"/>
<circle cx="339.1" cy="211.0" r="5.1"/>
<circle cx="351.5" cy="212.4" r="5.1"/>
<circle cx="339.1" cy="216.1" r="5.1"/>
<circle cx="364.4" cy="212.0" r="5.1"/>
<circle cx="371.2" cy="216.1" r="5.1"/>
<circle cx="364.4" cy="229.2" r="5.1"/>
<circle cx="336.2" cy="232.2" r="5.1"/>
<circle cx="322.3" cy="235.1" r="5.1"/>
<circle cx="355.9" cy="235.1" r="5.1"/>
<circle cx="386.0" cy="157.0" r="5.1"/>
<circle cx="386.0" cy="187.6" r="5.1"/>
<circle cx="402.2" cy="185.6" r="5.1"/>
<circle cx="410.7" cy="195.6" r="5.1"/>
<circle cx="419.7" cy="193.1" r="5.1"/>
<circle cx="399.0" cy="202.5" r="5.1"/>
<circle cx="351.4" cy="242.2" r="5.1"/>
<circle cx="364.2" cy="242.7" r="5.1"/>
<circle cx="316.3" cy="249.0" r="5.1"/>
<circle cx="338.9" cy="251.5" r="5.1"/>
<circle cx="352.6" cy="249.7" r="5.1"/>
<circle cx="390.3" cy="221.1" r="5.1"/>
<circle cx="393.2" cy="218.4" r="5.1"/>
<circle cx="399.1" cy="219.6" r="5.1"/>
<circle cx="402.0" cy="219.6" r="5.1"/>
<circle cx="419.5" cy="219.6" r="5.1"/>
<circle cx="399.1" cy="226.9" r="5.1"/>
<circle cx="410.8" cy="232.7" r="5.1"/>
<circle cx="414.4" cy="232.7" r="5.1"/>
<circle cx="402.7" cy="236.4" r="5.1"/>
<circle cx="397.6" cy="239.3" r="5.1"/>
<circle cx="385.9" cy="238.6" r="5.1"/>
<circle cx="385.9" cy="241.5" r="5.1"/>
<circle cx="431.6" cy="237.8" r="5.1"/>
<circle cx="420.3" cy="243.0" r="5.1"/>
<circle cx="410.0" cy="245.9" r="5.1"/>
<circle cx="415.1" cy="246.6" r="5.1"/>
<circle cx="394.0" cy="250.3" r="5.1"/>
<circle cx="402.0" cy="253.2" r="5.1"/>
<circle cx="439.2" cy="249.2" r="5.1"/>
<circle cx="414.4" cy="256.8" r="5.1"/>
<circle cx="402.0" cy="262.7" r="5.1"/>
<circle cx="398.4" cy="262.7" r="5.1"/>
<circle cx="439.2" cy="262.7" r="5.1"/>
<circle cx="414.4" cy="266.3" r="5.1"/>
<circle cx="406.4" cy="269.2" r="5.1"/>
<circle cx="420.3" cy="269.2" r="5.1"/>
<circle cx="399.1" cy="271.4" r="5.1"/>
<circle cx="393.2" cy="271.4" r="5.1"/>
<circle cx="385.9" cy="272.9" r="5.1"/>
<circle cx="429.7" cy="272.2" r="5.1"/>
<circle cx="414.4" cy="275.1" r="5.1"/>
<circle cx="433.4" cy="275.1" r="5.1"/>
<circle cx="474.3" cy="236.5" r="5.1"/>
<circle cx="474.3" cy="258.0" r="5.1"/>
<circle cx="431.5" cy="197.6" r="5.1"/>
<circle cx="447.3" cy="186.9" r="5.1"/>
<circle cx="402.7" cy="278.8" r="5.1"/>
<circle cx="399.1" cy="282.4" r="5.1"/>
<circle cx="414.4" cy="283.1" r="5.1"/>
<circle cx="429.7" cy="281.0" r="5.1"/>
<circle cx="429.7" cy="287.5" r="5.1"/>
<circle cx="402.0" cy="289.0" r="5.1"/>
<circle cx="410.8" cy="288.2" r="5.1"/>
<circle cx="399.1" cy="297.7" r="5.1"/>
<circle cx="406.4" cy="301.4" r="5.1"/>
<circle cx="414.4" cy="299.2" r="5.1"/>
<circle cx="416.6" cy="293.4" r="5.1"/>
<circle cx="424.6" cy="294.1" r="5.1"/>
<circle cx="419.5" cy="306.5" r="5.1"/>
<circle cx="429.7" cy="302.8" r="5.1"/>
<circle cx="419.5" cy="317.0" r="5.1"/>
<circle cx="450.2" cy="278.8" r="5.1"/>
<circle cx="454.6" cy="281.7" r="5.1"/>
<circle cx="451.6" cy="285.3" r="5.1"/>
<circle cx="445.1" cy="289.0" r="5.1"/>
<circle cx="464.8" cy="282.8" r="5.1"/>
<circle cx="439.2" cy="297.0" r="5.1"/>
<circle cx="447.3" cy="296.3" r="5.1"/>
<circle cx="453.8" cy="294.8" r="5.1"/>
<circle cx="464.8" cy="296.3" r="5.1"/>
<circle cx="454.6" cy="302.8" r="5.1"/>
<circle cx="461.1" cy="303.6" r="5.1"/>
<circle cx="439.2" cy="308.2" r="5.1"/>
<circle cx="450.2" cy="311.6" r="5.1"/>
<circle cx="462.6" cy="309.4" r="5.1"/>
<circle cx="439.2" cy="318.2" r="5.1"/>
<circle cx="439.2" cy="322.8" r="5.1"/>
<circle cx="456.0" cy="318.9" r="5.1"/>
<circle cx="467.7" cy="318.2" r="5.1"/>
<circle cx="447.3" cy="329.6" r="5.1"/>
<circle cx="473.5" cy="307.2" r="5.1"/>
<circle cx="473.5" cy="322.6" r="5.1"/>
<circle cx="481.0" cy="284.6" r="5.1"/>
<circle cx="494.1" cy="276.6" r="5.1"/>
<circle cx="501.4" cy="274.4" r="5.1"/>
<circle cx="504.6" cy="284.6" r="5.1"/>
<circle cx="481.0" cy="294.1" r="5.1"/>
<circle cx="481.0" cy="299.2" r="5.1"/>
<circle cx="487.4" cy="308.2" r="5.1"/>
<circle cx="497.3" cy="306.5" r="5.1"/>
<circle cx="480.5" cy="313.1" r="5.1"/>
<circle cx="490.8" cy="315.3" r="5.1"/>
<circle cx="494.4" cy="318.2" r="5.1"/>
<circle cx="482.7" cy="319.6" r="5.1"/>
<circle cx="481.0" cy="329.1" r="5.1"/>
<circle cx="494.4" cy="328.4" r="5.1"/>
<circle cx="481.0" cy="337.9" r="5.1"/>
<circle cx="494.4" cy="338.6" r="5.1"/>
<circle cx="519.2" cy="337.2" r="5.1"/>
<circle cx="364.2" cy="270.5" r="5.1"/>
<circle cx="396.5" cy="277.0" r="5.1"/>
<circle cx="406.5" cy="274.5" r="5.1"/>
<circle cx="394.5" cy="284.0" r="5.1"/>
</g>
<g stroke="#262626" stroke-width="2.1" fill="none" stroke-linecap="butt">
<rect x="84.1" y="9.3" width="531.7" height="414.9"/>
<path d="M84.1 424.2 v12.0M104.5 424.2 v7.8M125.0 424.2 v7.8M145.5 424.2 v7.8M165.9 424.2 v12.0M186.3 424.2 v7.8M206.8 424.2 v7.8M227.2 424.2 v7.8M247.7 424.2 v12.0M268.2 424.2 v7.8M288.6 424.2 v7.8M309.0 424.2 v7.8M329.5 424.2 v12.0M350.0 424.2 v7.8M370.4 424.2 v7.8M390.9 424.2 v7.8M411.3 424.2 v12.0M431.8 424.2 v7.8M452.2 424.2 v7.8M472.6 424.2 v7.8M493.1 424.2 v12.0M513.5 424.2 v7.8M534.0 424.2 v7.8M554.5 424.2 v7.8M574.9 424.2 v12.0M595.3 424.2 v7.8M615.8 424.2 v7.8M84.1 9.3 h-12.0M84.1 24.1 h-8.0M84.1 38.9 h-8.0M84.1 53.8 h-8.0M84.1 68.6 h-12.0M84.1 83.4 h-8.0M84.1 98.2 h-8.0M84.1 113.0 h-8.0M84.1 127.8 h-12.0M84.1 142.7 h-8.0M84.1 157.5 h-8.0M84.1 172.3 h-8.0M84.1 187.1 h-12.0M84.1 201.9 h-8.0M84.1 216.8 h-8.0M84.1 231.6 h-8.0M84.1 246.4 h-12.0M84.1 261.2 h-8.0M84.1 276.0 h-8.0M84.1 290.8 h-8.0M84.1 305.7 h-12.0M84.1 320.5 h-8.0M84.1 335.3 h-8.0M84.1 350.1 h-8.0M84.1 364.9 h-12.0M84.1 379.7 h-8.0M84.1 394.6 h-8.0M84.1 409.4 h-8.0M84.1 424.2 h-12.0"/>
</g>
<g class="s" font-size="26.8">
<text x="83.7" y="462.7" text-anchor="middle">4.8</text>
<text x="165.5" y="462.7" text-anchor="middle">4.6</text>
<text x="247.3" y="462.7" text-anchor="middle">4.4</text>
<text x="329.1" y="462.7" text-anchor="middle">4.2</text>
<text x="410.9" y="462.7" text-anchor="middle">4.0</text>
<text x="492.7" y="462.7" text-anchor="middle">3.8</text>
<text x="574.5" y="462.7" text-anchor="middle">3.6</text>
<text x="66.1" y="19.5" text-anchor="end">6</text>
<text x="66.1" y="78.8" text-anchor="end">5</text>
<text x="66.1" y="138.0" text-anchor="end">4</text>
<text x="66.1" y="197.3" text-anchor="end">3</text>
<text x="66.1" y="256.6" text-anchor="end">2</text>
<text x="66.1" y="315.9" text-anchor="end">1</text>
<text x="66.1" y="375.1" text-anchor="end">0</text>
<text x="66.1" y="434.4" text-anchor="end">−1</text>
</g>
<text class="s" font-size="26.6" x="349.4" y="497.1" text-anchor="middle">log(Teff) [K]</text>
<g class="s" font-size="26.6" transform="translate(20.8 278.5) rotate(-90)"><text x="0" y="0">log(L</text><text x="60.3" y="0">)</text><text x="76" y="0">[L</text><text class="d" x="99.4" y="3.7" font-size="15.5" stroke="#262626" stroke-width="0.35">☉</text><text x="114.8" y="0">]</text></g>
<rect x="94.4" y="378.4" width="188.3" height="34.5" rx="3.5" ry="3.5" fill="#fff" stroke="#cfcfcf" stroke-width="1.3"/>
<circle cx="123.7" cy="395.6" r="4.8" fill="#4472b5"/>
<text class="s" font-size="21" x="160.7" y="402">Herbig stars</text>
<g class="r" font-size="16.8" stroke="#111" stroke-width="0.28"><text transform="translate(622.4 58.0) scale(1.05 1)">40</text><text transform="translate(645.3 58.0) scale(0.84 1)">M</text><text class="d" font-size="14.4" x="658.2" y="63.3" stroke-width="0.15">☉</text></g>
<g class="r" font-size="16.8" stroke="#111" stroke-width="0.28"><text transform="translate(622.4 87.7) scale(1.05 1)">20</text><text transform="translate(645.3 87.7) scale(0.84 1)">M</text><text class="d" font-size="14.4" x="658.2" y="93.0" stroke-width="0.15">☉</text></g>
<g class="r" font-size="16.8" stroke="#111" stroke-width="0.28"><text transform="translate(622.4 114.8) scale(1.05 1)">10</text><text transform="translate(645.3 114.8) scale(0.84 1)">M</text><text class="d" font-size="14.4" x="658.2" y="120.1" stroke-width="0.15">☉</text></g>
<g class="r" font-size="16.8" stroke="#111" stroke-width="0.28"><text transform="translate(622.4 145.2) scale(1.05 1)">5</text><text transform="translate(635.6 145.2) scale(0.84 1)">M</text><text class="d" font-size="14.4" x="648.7" y="150.5" stroke-width="0.15">☉</text></g>
<g class="r" font-size="16.8" stroke="#111" stroke-width="0.28"><text transform="translate(622.4 185.5) scale(1.05 1)">2</text><text transform="translate(635.6 185.5) scale(0.84 1)">M</text><text class="d" font-size="14.4" x="648.7" y="190.8" stroke-width="0.15">☉</text></g>
<g class="r" font-size="16.8" stroke="#111" stroke-width="0.28"><text transform="translate(623.4 220.5) scale(1.05 1)">1</text><text transform="translate(636.6 220.5) scale(0.84 1)">M</text><text class="d" font-size="14.4" x="649.7" y="225.8" stroke-width="0.15">☉</text></g>
<g class="s" fill="#111"><text font-size="16.4" transform="translate(621.1 360.7) scale(0.965 1)" style="fill:#111">0.01</text><text font-size="16.8" transform="translate(655.9 360.7) scale(0.995 1)" style="fill:#111" stroke="#111" stroke-width="0.25">Myr</text></g>
<g class="s" fill="#111"><text font-size="16.4" transform="translate(621.1 385.4) scale(0.965 1)" style="fill:#111">0.1</text><text font-size="16.8" transform="translate(647.2 385.4) scale(0.995 1)" style="fill:#111" stroke="#111" stroke-width="0.25">Myr</text></g>
<g class="s" fill="#111"><text font-size="16.4" transform="translate(621.1 407.3) scale(0.965 1)" style="fill:#111">1</text><text font-size="16.8" transform="translate(634.6 407.3) scale(0.995 1)" style="fill:#111" stroke="#111" stroke-width="0.25">Myr</text></g>
<g class="s" fill="#111"><text font-size="16.4" transform="translate(621.1 427.1) scale(0.965 1)" style="fill:#111">10</text><text font-size="16.8" transform="translate(643.9 427.1) scale(0.995 1)" style="fill:#111" stroke="#111" stroke-width="0.25">Myr</text></g>
</svg></body></html>
